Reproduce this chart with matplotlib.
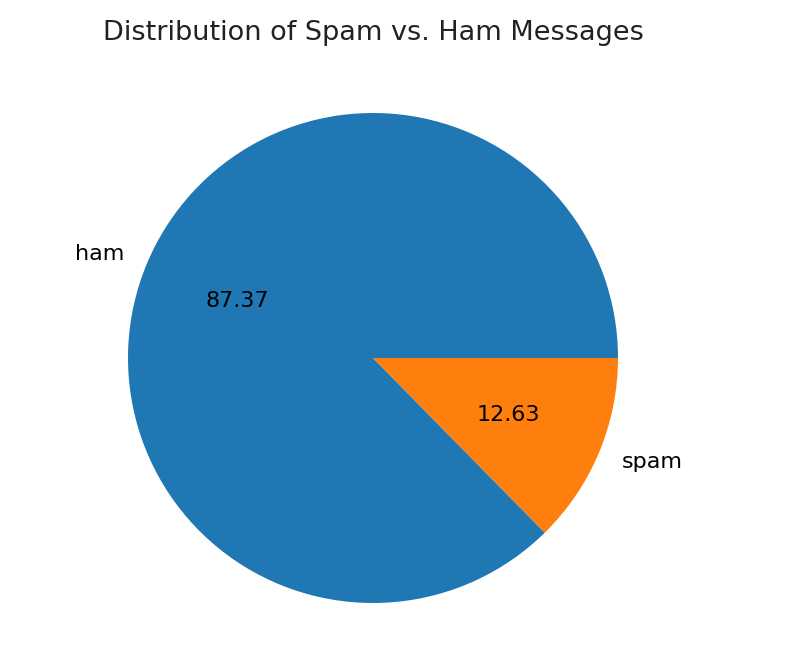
import matplotlib.pyplot as plt

labels = ['ham', 'spam']
counts = [4516, 653]

fig = plt.figure(figsize=(8.11, 6.68), dpi=100)
size = 612.5
ax = fig.add_axes([(373 - size/2)/811, (310 - size/2)/668, size/811, size/668])
ax.pie(counts, labels=labels, autopct='%0.2f',
       textprops={'fontsize': 16})
ax.set_aspect('equal')
fig.text(373/811, 1 - 33/668, 'Distribution of Spam vs. Ham Messages',
         ha='center', va='center', fontsize=19.5, color='#222222')
fig.savefig('out.png', dpi=100)
